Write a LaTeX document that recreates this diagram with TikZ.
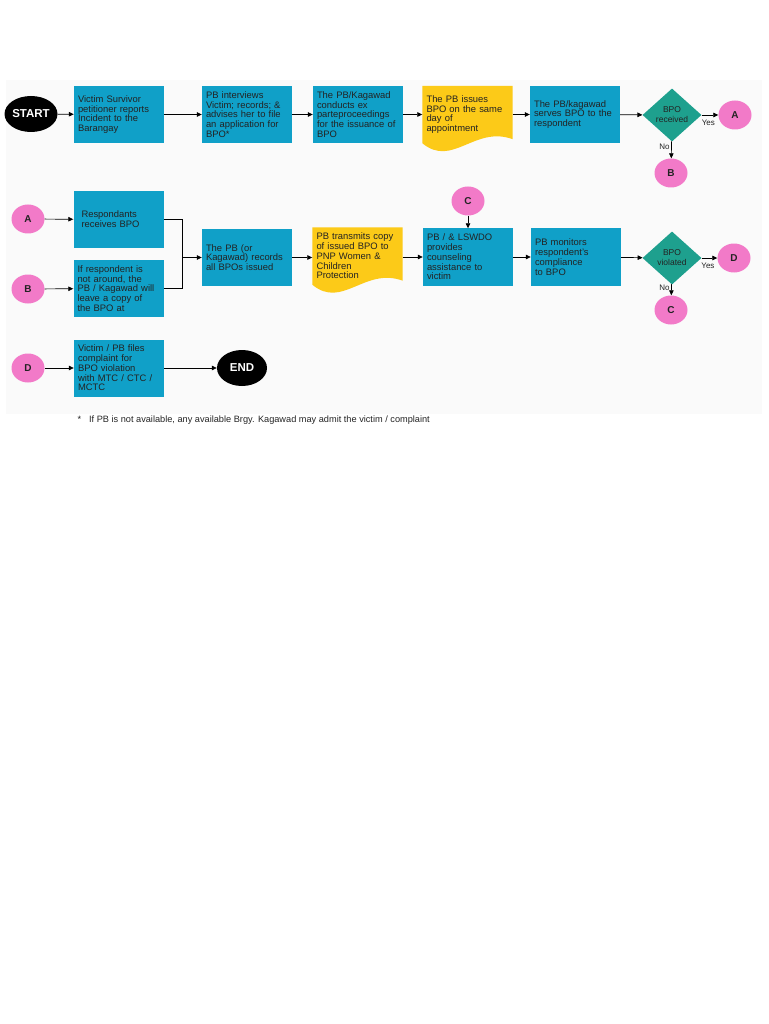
\documentclass[tikz,border=0pt]{standalone}
\usepackage{fontspec}
\setmainfont{Liberation Sans}
\usetikzlibrary{shapes.geometric,arrows.meta,backgrounds}
\definecolor{stepblue}{RGB}{16,160,200}
\definecolor{docyellow}{RGB}{252,202,24}
\definecolor{linkpink}{RGB}{242,122,200}
\definecolor{askteal}{RGB}{30,160,142}
\definecolor{ink}{RGB}{35,35,35}

\begin{document}
\begin{tikzpicture}[x=1pt,y=-1pt,
  stepbox/.style={fill=stepblue, minimum width=90pt, minimum height=57pt, text width=82pt, inner xsep=4pt, align=left, text=ink, font=\fontsize{9.4}{9.8}\selectfont},
  docbox/.style={stepbox, fill=none},
  link/.style={ellipse, fill=linkpink, minimum width=33pt, minimum height=29pt, inner sep=0pt, text=ink, font=\bfseries\fontsize{10}{10}\selectfont},
  ask/.style={diamond, fill=askteal, minimum width=59pt, minimum height=53pt, inner sep=0pt, align=center, text=ink, font=\fontsize{8.5}{10}\selectfont},
  term/.style={ellipse, fill=black, minimum width=50pt, minimum height=36pt, inner sep=0pt, text=white, font=\bfseries\fontsize{11.5}{11.5}\selectfont},
  flow/.style={-{Triangle[length=5pt,width=4.5pt]}, line width=0.7pt},
  tag/.style={text=ink, font=\fontsize{8}{8}\selectfont, inner sep=1.5pt}]
\useasboundingbox (0,0) rectangle (768,1024);

\node[term] (start) at (31,114) {START};
\node[stepbox] (report) at (119,114.5) {Victim Survivor\\petitioner reports\\Incident to the\\Barangay};
\node[stepbox] (interview) at (247,114.5) {PB interviews\\Victim; records; \&\\advises her to file\\an application for\\BPO*};
\node[stepbox] (exparte) at (358,114.5) {The PB/Kagawad\\conducts ex\\parteproceedings\\for the issuance of\\BPO};
\node[docbox] (issue) at (467.5,114.5) {The PB issues\\BPO on the same\\day of\\appointment};
\node[stepbox] (serve) at (575,114.5) {The PB/kagawad\\serves BPO to the\\respondent};
\node[ask] (received) at (672,115) {BPO\\received};
\node[link] (goA) at (735,115) {A};
\node[link] (goB) at (671,173) {B};

\node[link] (inA) at (28,219) {A};
\node[link] (inB) at (28,289) {B};
\node[stepbox] (respA) at (118.5,219.5) {\hspace*{4pt}Respondants\\\hspace*{4pt}receives BPO};
\node[stepbox] (respB) at (118.5,288.5) {If respondent is\\not around, the\\PB / Kagawad will\\leave a copy of\\the BPO at};
\coordinate (merge) at (182,257.5);
\node[stepbox] (records) at (247,257.5) {The PB (or\\Kagawad) records\\all BPOs issued};
\node[docbox] (transmit) at (357.5,256) {PB transmits copy\\of issued BPO to\\PNP Women \&\\Children\\Protection};
\node[link] (backC) at (468,201) {C};
\node[stepbox] (counsel) at (468,257) {PB / \& LSWDO\\provides\\counseling\\assistance to\\victim};
\node[stepbox] (monitor) at (576,257) {PB monitors\\respondent's\\compliance\\to BPO};
\node[ask] (violated) at (672,258) {BPO\\violated};
\node[link] (goD) at (734,258) {D};
\node[link] (goC) at (671,310) {C};

\node[link] (inD) at (28,368) {D};
\node[stepbox] (complaint) at (119,368) {Victim / PB files\\complaint for\\BPO violation\\with MTC / CTC /\\MCTC};
\node[term] (finish) at (242,368) {END};

\node[anchor=west, text=ink, font=\fontsize{9.2}{9.2}\selectfont] (note) at (74,420) {*\hspace{8pt}If PB is not available, any available Brgy. Kagawad may admit the victim / complaint};

\begin{scope}[on background layer]
\fill[black!2] (6,80) rectangle (762,414);
\fill[docyellow] (issue.north west) -- (issue.north east) -- ([yshift=4pt]issue.south east)
  .. controls ([xshift=-38pt,yshift=18pt]issue.south east) and ([xshift=30pt,yshift=-25pt]issue.south west) .. (issue.south west) -- cycle;
\fill[docyellow] (transmit.north west) -- (transmit.north east) -- ([yshift=4pt]transmit.south east)
  .. controls ([xshift=-38pt,yshift=18pt]transmit.south east) and ([xshift=30pt,yshift=-25pt]transmit.south west) .. (transmit.south west) -- cycle;
\end{scope}

\draw[flow] (start) -- (report);
\draw[flow] (report) -- (interview);
\draw[flow] (interview) -- (exparte);
\draw[flow] (exparte) -- (issue);
\draw[flow] (issue) -- (serve);
\draw[flow] (serve) -- (received);
\draw[flow] (received) -- node[tag, below=3pt, pos=0.4]{Yes} (goA);
\draw[flow] (received) -- node[tag, left, pos=0.3]{No} (goB);

\draw[flow] (inA) -- (respA);
\draw[flow] (inB) -- (respB);
\draw[line width=0.7pt] (respA.east) -| (merge);
\draw[line width=0.7pt] (respB.east) -| (merge);
\draw[flow] (merge) -- (records);
\draw[flow] (records) -- (transmit.west |- records);
\draw[flow] (transmit.east |- counsel) -- (counsel);
\draw[flow] (backC) -- (counsel);
\draw[flow] (counsel) -- (monitor);
\draw[flow] (monitor) -- (violated);
\draw[flow] (violated) -- node[tag, below=3pt, pos=0.4]{Yes} (goD);
\draw[flow] (violated) -- node[tag, left, pos=0.3]{No} (goC);

\draw[flow] (inD) -- (complaint);
\draw[flow] (complaint) -- (finish);
\end{tikzpicture}
\end{document}
